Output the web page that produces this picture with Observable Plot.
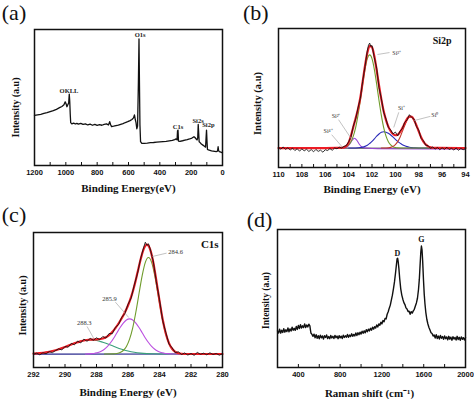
<!DOCTYPE html>
<html><head><meta charset="utf-8">
<script src="https://cdn.jsdelivr.net/npm/d3@7"></script>
<script src="https://cdn.jsdelivr.net/npm/@observablehq/plot@0.6"></script>
<style>
html,body{margin:0;padding:0;background:#fff;}
#wrap{position:relative;width:474px;height:399px;overflow:hidden;background:#fff;}
#wrap svg{position:absolute;}
</style></head><body><div id="wrap"></div>
<script>
// ---------- Panel (a): XPS survey ----------
const surveyA = [[1200,36.8],[1180,37.2],[1160,37.6],[1140,38.3],[1120,38.8],[1100,39.6],[1080,40.4],[1060,41.3],[1040,42.5],[1025,43.4],[1012,44.6],[1004,46.8],[998,45.2],[993,43.2],[988,44.5],[982,46],[978,52.5],[975,47],[972,38],[969,31.5],[962,30.6],[950,31.2],[940,30.5],[930,31.0],[920,30.4],[905,31.0],[890,30.2],[875,30.6],[860,29.8],[845,30.4],[830,29.6],[815,30.3],[800,29.5],[785,30.0],[770,29.6],[755,30.2],[740,30.6],[728,29.8],[720,32.2],[714,30],[708,28.6],[695,28.9],[680,29.4],[665,29.7],[650,30.3],[635,30.8],[620,31.6],[605,32.2],[590,33.0],[578,33.8],[568,35],[562,37.2],[557,34.0],[552,31.5],[547,27.0],[542,29],[537,60],[533,93],[530,60],[527,30],[523,17.5],[515,16.2],[500,16.3],[480,16.5],[460,16.8],[440,16.9],[420,17.2],[400,17.4],[380,17.6],[360,17.8],[340,18.1],[320,18.4],[305,19.0],[296,19.6],[290,18.8],[287,25.5],[284,26],[281,18.0],[272,17.8],[255,18.2],[240,18.6],[225,19.0],[210,19.5],[195,20.2],[182,21.2],[176,20.6],[168,19.5],[162,18.8],[158,20.5],[155,30.2],[152,24],[149,17.5],[143,16.8],[135,15.8],[125,15.0],[115,14.2],[108,13.5],[105,20],[102,26.0],[99,18],[96,11.8],[90,11.5],[80,11.2],[70,10.8],[60,10.6],[50,10.4],[40,10.2],[32,10.5],[28,13.8],[25,11.0],[20,10.2],[10,9.8],[0,9.2]];
const labelsA = [{t:"OKLL",x:980,y:54.6},{t:"O1s",x:526,y:96},{t:"C1s",x:284,y:28.7},{t:"Si2s",x:156,y:32.6},{t:"Si2p",x:90,y:30}];
const majorA = [1200,1000,800,600,400,200,0];
const minorA = [1200,1100,1000,900,800,700,600,500,400,300,200,100,0];

// ---------- Panel (b): Si2p ----------
const rawB = [[110.0,14.5],[109.8,13.2],[109.6,14.8],[109.4,13.0],[109.2,14.2],[109.0,12.6],[108.8,13.9],[108.6,12.2],[108.4,13.5],[108.2,11.8],[108.0,13.4],[107.8,12.0],[107.6,13.1],[107.4,11.5],[107.2,12.9],[107.0,11.3],[106.8,13.0],[106.6,11.6],[106.4,12.5],[106.2,11.0],[106.0,12.8],[105.8,12.2],[105.6,13.6],[105.4,12.4],[105.2,14.0],[105.0,13.5],[104.8,14.6],[104.6,14.0],[104.4,15.2],[104.2,15.8],[104.0,18.5],[103.8,22.0],[103.6,29.8],[103.4,34.8],[103.2,42.8],[103.0,49.6],[102.8,62.0],[102.6,72.5],[102.4,84.0],[102.3,88.0],[102.2,89.5],[102.1,87.0],[102.0,87.8],[101.8,79.0],[101.6,71.5],[101.4,57.5],[101.2,49.5],[101.0,39.8],[100.8,34.8],[100.6,28.8],[100.4,27.0],[100.2,24.2],[100.0,25.5],[99.8,22.8],[99.6,26.2],[99.4,28.0],[99.2,32.5],[99.0,34.2],[98.8,38.0],[98.6,36.0],[98.4,34.8],[98.2,29.5],[98.0,26.8],[97.8,21.0],[97.6,19.2],[97.4,16.0],[97.2,15.8],[97.0,13.8],[96.8,14.8],[96.6,13.2],[96.4,14.4],[96.2,12.8],[96.0,14.2],[95.8,13.0],[95.6,14.6],[95.4,12.9],[95.2,13.8],[95.0,12.6],[94.8,14.0],[94.6,12.4],[94.4,13.7],[94.2,12.8],[94.0,13.5]];
const fitB = [[110,14],[106,14],[105,14.05],[104.6,14.2],[104.4,14.5],[104.2,15.5],[104.0,17.9],[103.8,22.8],[103.6,29.2],[103.4,35.4],[103.2,41.9],[103.0,50.2],[102.8,61.5],[102.6,73.0],[102.4,82.5],[102.2,87.5],[102.0,86.5],[101.8,80.0],[101.6,70.0],[101.4,59.0],[101.2,49.0],[101.0,40.4],[100.8,34.1],[100.6,29.4],[100.4,26.1],[100.2,24.1],[100.0,23.2],[99.8,23.6],[99.6,25.4],[99.4,28.4],[99.2,31.8],[99.0,35.0],[98.8,36.8],[98.6,36.5],[98.4,34.2],[98.2,30.3],[98.0,26.0],[97.8,21.8],[97.6,18.6],[97.4,16.5],[97.2,15.2],[97.0,14.5],[96.8,14.2],[96.4,14.05],[94,14]];
const si3B = [[106,14.0],[104.6,14.15],[104.4,14.4],[104.2,15.0],[104.0,16.2],[103.8,18.6],[103.6,22.6],[103.4,28.7],[103.2,37.5],[103.0,48.2],[102.8,59.9],[102.6,70.6],[102.4,78.3],[102.2,81],[102.0,78.3],[101.8,70.6],[101.6,59.9],[101.4,48.2],[101.2,37.5],[101.0,28.7],[100.8,22.6],[100.6,18.6],[100.4,16.2],[100.2,15.0],[100.0,14.4],[99.8,14.15],[99.4,14.0],[97,14.0]];
const si1B = [[104,14.0],[103.4,14.07],[103.0,14.34],[102.8,14.66],[102.6,15.2],[102.4,16.0],[102.2,17.3],[102.0,18.8],[101.8,20.6],[101.6,22.5],[101.4,24.1],[101.2,25.3],[101.0,25.7],[100.8,25.4],[100.6,24.6],[100.4,23.4],[100.2,21.9],[100.0,20.3],[99.8,18.8],[99.6,17.5],[99.4,16.4],[99.2,15.6],[99.0,15.0],[98.8,14.6],[98.6,14.3],[98.4,14.2],[98.0,14.05],[97.0,14.0],[94,14.0]];
const si4B = [[110,14.0],[104.5,14.0],[104.3,14.2],[104.1,14.9],[103.9,16.9],[103.7,19.6],[103.5,21.0],[103.3,19.6],[103.1,16.9],[102.9,14.9],[102.7,14.2],[102.5,14.0],[101.5,13.5],[94,13.3]];
const si0B = [[101.2,14.0],[100.8,14.05],[100.4,14.5],[100.2,15.2],[100.0,16.5],[99.8,18.6],[99.6,21.8],[99.4,26.0],[99.2,30.2],[99.0,34.0],[98.8,36.2],[98.6,36.2],[98.4,34.0],[98.2,30.2],[98.0,26.0],[97.8,21.8],[97.6,18.6],[97.4,16.5],[97.2,15.2],[97.0,14.5],[96.6,14.05],[95.0,14.0]];
const baseB = [[110,14.0],[94,13.8]];
const labelsB = [{t:"Si³⁺",x:100.26,y:82.3},{t:"Si⁺",x:99.78,y:43},{t:"Si⁰",x:96.92,y:38},{t:"Si²⁺",x:105.45,y:37.3},{t:"Si⁴⁺",x:106.14,y:26.5}];
const leadersB = [{x1:101.53,y1:81.3,x2:100.5,y2:82.7},{x1:100.14,y1:28.8,x2:99.71,y2:39.7},{x1:98.43,y1:33.7,x2:97.0,y2:36.8},{x1:104.86,y1:34.4,x2:103.66,y2:19.3},{x1:105.45,y1:23.6,x2:104.54,y2:14.7}];
const majorB = [110,108,106,104,102,100,98,96,94];
const minorB = [110,109,108,107,106,105,104,103,102,101,100,99,98,97,96,95,94];

// ---------- Panel (c): C1s ----------
const rawC = [[292.0,9.8],[291.8,10.6],[291.6,9.4],[291.4,10.9],[291.2,10.2],[291.0,11.8],[290.8,11.0],[290.6,12.6],[290.4,13.8],[290.2,13.0],[290.0,15.6],[289.8,15.0],[289.6,17.9],[289.4,16.8],[289.2,19.6],[289.0,18.2],[288.8,21.0],[288.6,19.4],[288.4,21.6],[288.2,20.2],[288.0,22.0],[287.8,20.6],[287.6,23.0],[287.4,21.8],[287.2,25.2],[287.0,25.0],[286.8,29.8],[286.6,31.8],[286.4,37.2],[286.2,40.0],[286.0,46.8],[285.8,51.5],[285.6,61.2],[285.4,69.5],[285.2,80.6],[285.0,89.2],[284.9,92.8],[284.8,90.5],[284.7,91.6],[284.6,88.2],[284.4,79.0],[284.2,63.5],[284.0,50.2],[283.8,34.8],[283.6,26.0],[283.4,17.4],[283.2,14.6],[283.0,11.0],[282.8,11.6],[282.6,9.6],[282.4,10.8],[282.2,9.2],[282.0,10.4],[281.8,9.0],[281.6,11.2],[281.4,9.8],[281.2,10.6],[281.0,9.4],[280.8,10.9],[280.6,9.6],[280.4,10.4],[280.2,9.1],[280.0,10.2]];
const fitC = [[292,10.3],[291.6,10.65],[291.2,11.25],[290.8,12.2],[290.4,13.5],[290.0,15.2],[289.6,17.1],[289.2,18.7],[288.8,20.0],[288.4,20.6],[288.0,20.8],[287.6,21.5],[287.4,22.4],[287.2,24.0],[287.0,26.3],[286.8,29.2],[286.6,32.6],[286.4,36.5],[286.2,40.8],[286.0,45.9],[285.8,52.3],[285.6,60.4],[285.4,70.1],[285.2,80.0],[285.0,87.9],[284.8,91.0],[284.6,87.7],[284.4,78.2],[284.2,64.4],[284.0,49.4],[283.8,35.7],[283.6,25.2],[283.4,18.1],[283.2,13.9],[283.0,11.6],[282.8,10.6],[282.6,10.2],[282.2,10.0],[280,10.0]];
const cc_C = [[287.5,10.0],[286.9,10.1],[286.7,10.4],[286.5,11.1],[286.3,12.6],[286.1,15.6],[285.9,21.0],[285.7,29.4],[285.5,41.1],[285.3,54.8],[285.1,68.1],[284.9,77.9],[284.7,81.5],[284.5,77.9],[284.3,68.1],[284.1,54.8],[283.9,41.1],[283.7,29.4],[283.5,21.0],[283.3,15.6],[283.1,12.6],[282.9,11.1],[282.7,10.4],[282.5,10.1],[281.9,10.0],[280,10.0]];
const co_C = [[288.7,10.05],[288.3,10.3],[288.1,10.6],[287.9,11.1],[287.7,12.1],[287.5,13.5],[287.3,15.6],[287.1,18.5],[286.9,21.9],[286.7,25.8],[286.5,29.6],[286.3,32.9],[286.1,35.2],[285.9,36.0],[285.7,35.2],[285.5,32.9],[285.3,29.6],[285.1,25.8],[284.9,21.9],[284.7,18.5],[284.5,15.6],[284.3,13.5],[284.1,12.1],[283.9,11.1],[283.7,10.6],[283.5,10.3],[283.1,10.05],[282,10.0],[280,10.0]];
const oco_C = [[292,10.3],[291.6,10.65],[291.2,11.25],[290.8,12.2],[290.4,13.5],[290.0,15.2],[289.6,17.1],[289.2,18.7],[288.8,20.0],[288.4,20.4],[288.0,20.0],[287.6,18.7],[287.2,17.1],[286.8,15.2],[286.4,13.5],[286.0,12.2],[285.6,11.25],[285.2,10.65],[284.8,10.3],[284.4,10.14],[283.5,10.0],[280,10.0]];
const baseC = [[292,9.9],[280,10.0]];
const labelsC = [{t:"284.6",x:283.44,y:85.4},{t:"285.9",x:287.64,y:50.6},{t:"288.3",x:289.24,y:33.3}];
const leadersC = [{x1:284.46,y1:82.2,x2:283.55,y2:84.7},{x1:286.8,y1:48.4,x2:285.95,y2:37},{x1:288.6,y1:30.4,x2:288.18,y2:21.7}];
const majorC = [292,290,288,286,284,282,280];
const minorC = [292,291,290,289,288,287,286,285,284,283,282,281,280];

// ---------- Panel (d): Raman ----------
const ramanD = [[200,26.5],[210,25.0],[220,27.8],[230,24.9],[240,27.0],[250,25.4],[260,28.1],[270,25.6],[280,27.3],[290,26.0],[300,28.6],[310,25.9],[320,28.0],[330,26.4],[340,29.2],[350,27.0],[360,28.4],[370,26.9],[380,29.8],[390,27.6],[400,30.4],[410,28.2],[420,31.0],[430,28.6],[440,30.2],[450,28.9],[460,31.6],[470,29.0],[480,30.8],[490,29.4],[500,31.4],[510,30.2],[515,27.5],[520,25.0],[530,24.0],[540,22.6],[550,24.2],[560,21.6],[570,23.8],[580,21.2],[590,23.0],[600,20.8],[610,23.4],[620,21.5],[630,22.9],[640,20.6],[650,23.0],[660,21.8],[670,23.6],[680,21.0],[690,22.4],[700,20.9],[710,23.2],[720,21.4],[730,22.6],[740,21.0],[750,23.3],[760,21.6],[770,22.8],[780,20.9],[790,23.1],[800,21.5],[810,22.7],[820,21.0],[830,23.4],[840,21.8],[850,23.0],[860,22.0],[870,23.9],[880,21.9],[890,23.5],[900,22.4],[910,24.4],[920,22.6],[930,24.0],[940,22.9],[950,25.0],[960,23.2],[970,25.2],[980,23.8],[990,25.6],[1000,24.2],[1010,26.3],[1020,24.8],[1030,26.6],[1040,25.1],[1050,27.4],[1060,25.9],[1070,27.8],[1080,26.5],[1090,28.4],[1100,27.0],[1110,29.2],[1120,27.8],[1130,29.6],[1140,28.6],[1150,30.8],[1160,29.4],[1170,31.6],[1180,30.6],[1190,32.8],[1200,31.6],[1210,34.0],[1220,33.2],[1230,35.6],[1240,35.2],[1250,38.6],[1260,40.4],[1270,43.0],[1280,45.2],[1290,48.8],[1300,52.4],[1310,57.0],[1320,62.0],[1330,68.5],[1340,75.5],[1345,78.8],[1350,79.2],[1355,77.0],[1362,72.0],[1370,64.5],[1380,57.0],[1390,52.5],[1400,49.5],[1410,47.0],[1420,45.6],[1430,43.2],[1440,42.4],[1450,40.6],[1460,40.8],[1470,38.6],[1480,40.5],[1490,39.4],[1500,41.0],[1510,42.2],[1520,44.5],[1530,46.8],[1540,50.2],[1550,56.5],[1558,64.0],[1565,74.0],[1572,83.5],[1578,88.0],[1584,85.0],[1590,77.0],[1598,63.0],[1605,53.0],[1612,46.0],[1620,40.0],[1630,34.8],[1640,31.5],[1650,29.0],[1660,27.2],[1670,25.2],[1680,24.6],[1690,22.8],[1700,23.6],[1710,21.4],[1720,23.8],[1730,21.0],[1740,22.8],[1750,20.6],[1760,23.2],[1770,21.2],[1780,22.4],[1790,20.4],[1800,22.8],[1810,20.9],[1820,22.2],[1830,20.0],[1840,22.6],[1850,20.5],[1860,22.0],[1870,19.8],[1880,22.3],[1890,20.6],[1900,21.8],[1910,19.9],[1920,22.6],[1930,20.3],[1940,21.9],[1950,19.7],[1960,22.2],[1970,20.4],[1980,21.6],[1990,20.0],[2000,21.8]];
const labelsD = [{t:"D",x:1348,y:83},{t:"G",x:1578,y:92.8}];
const majorD = [400,800,1200,1600,2000];
const minorD = [400,600,800,1000,1200,1400,1600,1800,2000];

const SERIF = "Liberation Serif, Times New Roman, serif";
const SANS = "Liberation Sans, Arial, sans-serif";

function panel(cfg) {
  const fh = cfg.height - cfg.mt - cfg.mb;
  const svg = Plot.plot({
    width: cfg.width, height: cfg.height,
    marginLeft: cfg.ml, marginRight: cfg.mr, marginTop: cfg.mt, marginBottom: cfg.mb,
    style: {background: "transparent", fontFamily: SANS, overflow: "visible"},
    x: {domain: cfg.xDomain},
    y: {domain: [0, 100], axis: null},
    marks: [
      ...cfg.marks,
      Plot.tickX(cfg.minor, {x: d => d, insetTop: fh - 3, stroke: "#111", strokeWidth: 1}),
      Plot.axisX({ticks: cfg.major, tickSize: 0, tickPadding: 4, tickFormat: d => String(d), fontWeight: "bold", fontSize: 7.5, fontFamily: SANS, fill: "#111", label: null}),
      Plot.frame({stroke: "#111", strokeWidth: 1.5}),
      Plot.text([cfg.xTitle], {text: d => d, frameAnchor: "bottom", lineAnchor: "middle", textAnchor: "middle", dx: cfg.xtDx, dy: cfg.xtDy, fontFamily: SERIF, fontWeight: "bold", fontSize: 11, fill: "#111"}),
      Plot.text(["Intensity (a.u)"], {text: d => d, frameAnchor: "left", rotate: -90, lineAnchor: "middle", textAnchor: "middle", dx: cfg.ytDx, dy: cfg.ytDy, fontFamily: SERIF, fontWeight: "bold", fontSize: cfg.ytSize, fill: "#111"}),
      Plot.text([cfg.letter], {text: d => d, frameAnchor: "top-left", lineAnchor: "middle", textAnchor: "middle", dx: cfg.lDx, dy: cfg.lDy, fontFamily: SERIF, fontSize: 22, fill: "#111"})
    ]
  });
  svg.style.left = cfg.left + "px";
  svg.style.top = cfg.top + "px";
  document.getElementById("wrap").appendChild(svg);
}

const line = (data, stroke, w, curve) => Plot.line(data, {x: d => d[0], y: d => d[1], stroke, strokeWidth: w, curve: curve || "linear"});

panel({
  left: 0, top: 0, width: 237, height: 200, ml: 34, mr: 15, mt: 29, mb: 35,
  xDomain: [1200, 0], major: majorA, minor: minorA,
  xTitle: "Binding Energy(eV)", xtDx: 0, xtDy: 23, ytDx: -19, ytDy: 10, ytSize: 10,
  letter: "(a)", lDx: -20.5, lDy: -17,
  marks: [
    line(surveyA, "#111", 1.3),
    Plot.text(labelsA, {x: "x", y: "y", text: "t", fontFamily: SERIF, fontWeight: "bold", fontSize: 6.5, fill: "#222"})
  ]
});

panel({
  left: 237, top: 0, width: 237, height: 200, ml: 41, mr: 9, mt: 28, mb: 33,
  xDomain: [110, 94], major: majorB, minor: minorB,
  xTitle: "Binding Energy (eV)", xtDx: 0, xtDy: 21.5, ytDx: -21, ytDy: 5.5, ytSize: 10.5,
  letter: "(b)", lDx: -22.7, lDy: -16,
  marks: [
    line(baseB, "#333", 1),
    line(si4B, "#9b45d6", 1.1, "monotone-x"),
    line(si1B, "#2a2ab8", 1.1, "monotone-x"),
    line(si3B, "#6f9c2c", 1.1, "monotone-x"),
    line(si0B, "#c0392b", 1.1, "monotone-x"),
    line(fitB, "#ee1c25", 2.2, "monotone-x"),
    line(rawB, "#111", 0.85),
    Plot.link(leadersB, {x1: "x1", y1: "y1", x2: "x2", y2: "y2", stroke: "#999", strokeWidth: 0.6}),
    Plot.text(labelsB, {x: "x", y: "y", text: "t", textAnchor: "start", fontFamily: SERIF, fontSize: 6, fill: "#333"}),
    Plot.text(["Si2p"], {text: d => d, x: () => 96.0, y: () => 91.4, fontFamily: SERIF, fontWeight: "bold", fontSize: 10, fill: "#111"})
  ]
});

panel({
  left: 0, top: 200, width: 237, height: 199, ml: 33, mr: 15, mt: 32, mb: 32,
  xDomain: [292, 280], major: majorC, minor: minorC,
  xTitle: "Binding Energy (eV)", xtDx: 0, xtDy: 24.5, ytDx: -11, ytDy: 5.5, ytSize: 10,
  letter: "(c)", lDx: -19.5, lDy: -17.3,
  marks: [
    line(baseC, "#23238a", 1.1),
    line(oco_C, "#3a9f7a", 1.1, "monotone-x"),
    line(co_C, "#bb4fe0", 1.1, "monotone-x"),
    line(cc_C, "#6f9c2c", 1.1, "monotone-x"),
    line(fitC, "#ee1c25", 2.2, "monotone-x"),
    line(rawC, "#111", 0.85),
    Plot.link(leadersC, {x1: "x1", y1: "y1", x2: "x2", y2: "y2", stroke: "#999", strokeWidth: 0.6}),
    Plot.text(labelsC, {x: "x", y: "y", text: "t", textAnchor: "start", fontFamily: SERIF, fontSize: 6.5, fill: "#333"}),
    Plot.text(["C1s"], {text: d => d, x: () => 280.81, y: () => 91.5, fontFamily: SERIF, fontWeight: "bold", fontSize: 11, fill: "#111"})
  ]
});

panel({
  left: 237, top: 200, width: 237, height: 199, ml: 40, mr: 9, mt: 29, mb: 32,
  xDomain: [200, 2000], major: majorD, minor: minorD,
  xTitle: "Raman shift (cm⁻¹)", xtDx: -2, xtDy: 26, ytDx: -12, ytDy: 2, ytSize: 9.5,
  letter: "(d)", lDx: -18, lDy: -10,
  marks: [
    line(ramanD, "#111", 1.4),
    Plot.text(labelsD, {x: "x", y: "y", text: "t", fontFamily: SERIF, fontWeight: "bold", fontSize: 8, fill: "#111"})
  ]
});
</script></body></html>
